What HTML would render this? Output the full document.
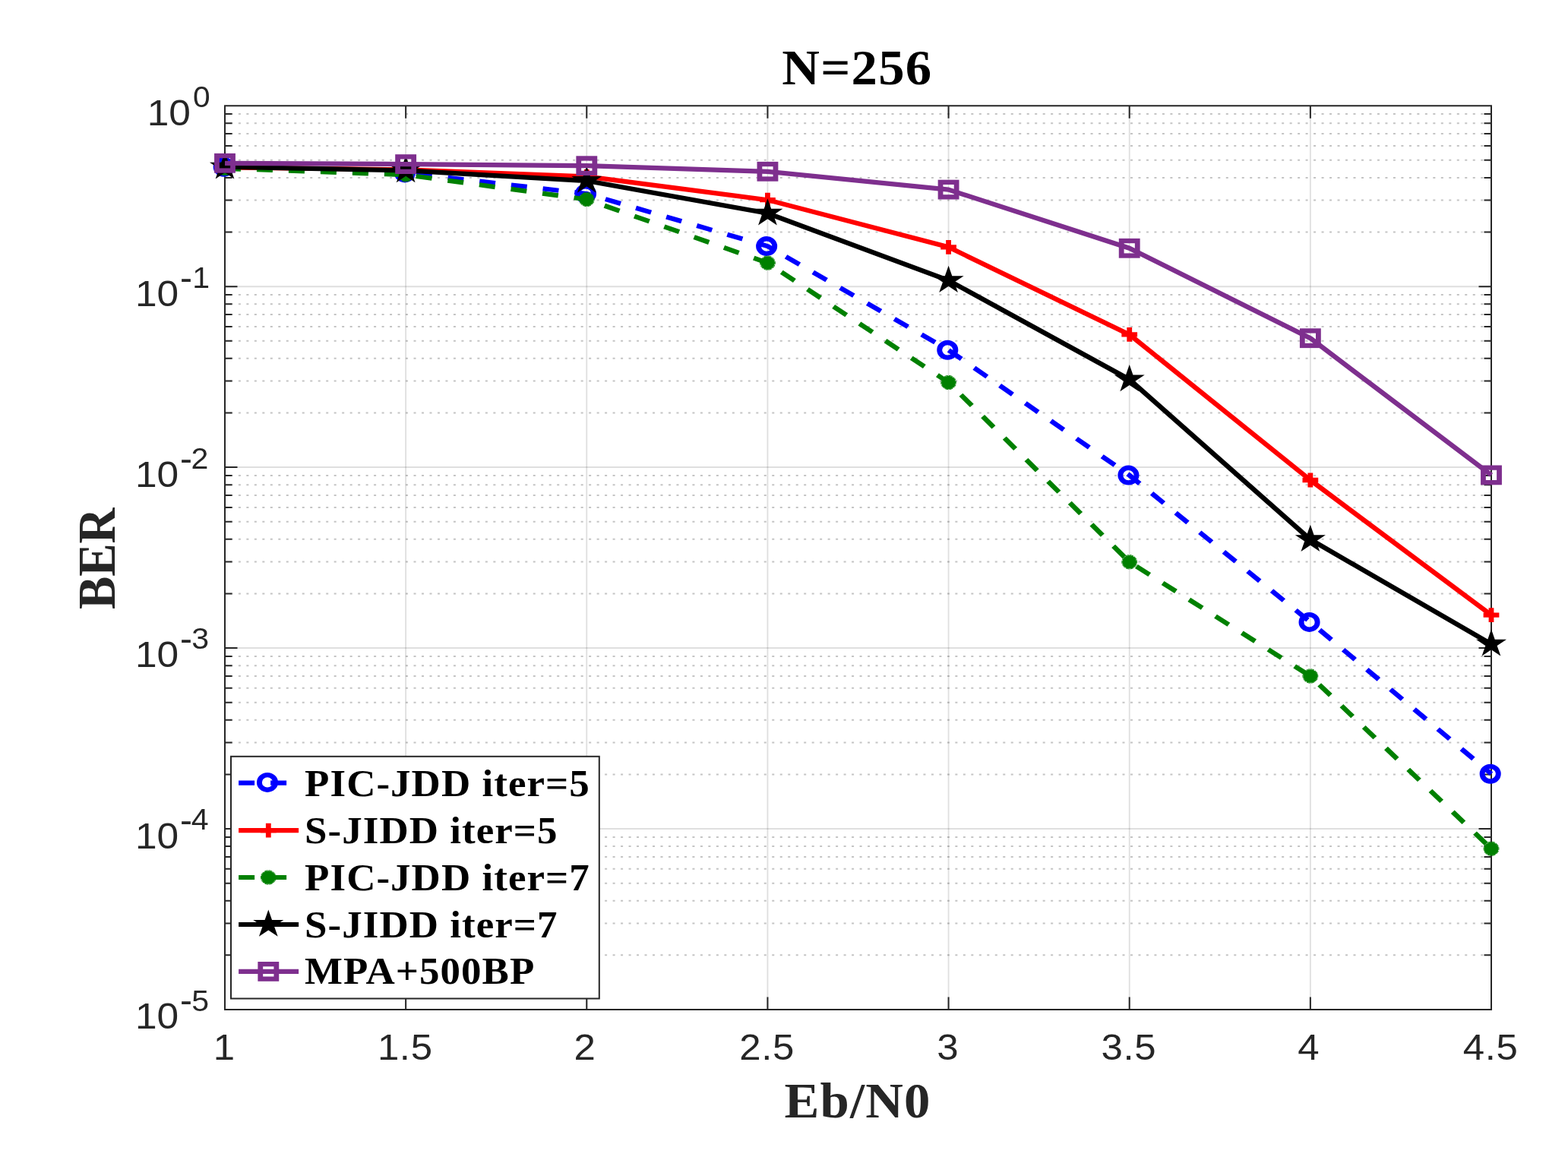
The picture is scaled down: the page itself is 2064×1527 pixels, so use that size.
<!DOCTYPE html><html><head><meta charset="utf-8"><title>N=256 BER vs Eb/N0</title><style>html,body{margin:0;padding:0;background:#fff;overflow:hidden}svg{display:block}</style></head><body>
<svg width="2064" height="1527" viewBox="0 0 2064 1527">
<rect x="0" y="0" width="2064" height="1527" fill="#fff"/>
<path d="M303.4 305.53H1963M303.4 263.62H1963M303.4 233.89H1963M303.4 210.83H1963M303.4 191.99H1963M303.4 176.06H1963M303.4 162.26H1963M303.4 150.09H1963M303.4 543.49H1963M303.4 501.58H1963M303.4 471.85H1963M303.4 448.79H1963M303.4 429.95H1963M303.4 414.02H1963M303.4 400.22H1963M303.4 388.05H1963M303.4 781.45H1963M303.4 739.54H1963M303.4 709.81H1963M303.4 686.75H1963M303.4 667.91H1963M303.4 651.98H1963M303.4 638.18H1963M303.4 626.01H1963M303.4 1019.41H1963M303.4 977.5H1963M303.4 947.77H1963M303.4 924.71H1963M303.4 905.87H1963M303.4 889.94H1963M303.4 876.14H1963M303.4 863.97H1963M303.4 1257.37H1963M303.4 1215.46H1963M303.4 1185.73H1963M303.4 1162.67H1963M303.4 1143.83H1963M303.4 1127.9H1963M303.4 1114.1H1963M303.4 1101.93H1963" stroke="#c4c4c4" stroke-width="2" stroke-dasharray="3 7.483" fill="none"/>
<path d="M296 377.16H1963M296 615.12H1963M296 853.08H1963M296 1091.04H1963" stroke="#262626" stroke-opacity="0.15" stroke-width="2" fill="none"/>
<path d="M534.14 139.2V1329M772.29 139.2V1329M1010.43 139.2V1329M1248.57 139.2V1329M1486.71 139.2V1329M1724.86 139.2V1329" stroke="#262626" stroke-opacity="0.15" stroke-width="1.8" fill="none"/>
<path d="M296 139.2H1963V1329H296ZM534.14 1329v-16.5M534.14 139.2v16.5M772.29 1329v-16.5M772.29 139.2v16.5M1010.43 1329v-16.5M1010.43 139.2v16.5M1248.57 1329v-16.5M1248.57 139.2v16.5M1486.71 1329v-16.5M1486.71 139.2v16.5M1724.86 1329v-16.5M1724.86 139.2v16.5M296 377.16h16.5M1963 377.16h-16.5M296 615.12h16.5M1963 615.12h-16.5M296 853.08h16.5M1963 853.08h-16.5M296 1091.04h16.5M1963 1091.04h-16.5M296 305.53h9.5M1963 305.53h-9.5M296 263.62h9.5M1963 263.62h-9.5M296 233.89h9.5M1963 233.89h-9.5M296 210.83h9.5M1963 210.83h-9.5M296 191.99h9.5M1963 191.99h-9.5M296 176.06h9.5M1963 176.06h-9.5M296 162.26h9.5M1963 162.26h-9.5M296 150.09h9.5M1963 150.09h-9.5M296 543.49h9.5M1963 543.49h-9.5M296 501.58h9.5M1963 501.58h-9.5M296 471.85h9.5M1963 471.85h-9.5M296 448.79h9.5M1963 448.79h-9.5M296 429.95h9.5M1963 429.95h-9.5M296 414.02h9.5M1963 414.02h-9.5M296 400.22h9.5M1963 400.22h-9.5M296 388.05h9.5M1963 388.05h-9.5M296 781.45h9.5M1963 781.45h-9.5M296 739.54h9.5M1963 739.54h-9.5M296 709.81h9.5M1963 709.81h-9.5M296 686.75h9.5M1963 686.75h-9.5M296 667.91h9.5M1963 667.91h-9.5M296 651.98h9.5M1963 651.98h-9.5M296 638.18h9.5M1963 638.18h-9.5M296 626.01h9.5M1963 626.01h-9.5M296 1019.41h9.5M1963 1019.41h-9.5M296 977.5h9.5M1963 977.5h-9.5M296 947.77h9.5M1963 947.77h-9.5M296 924.71h9.5M1963 924.71h-9.5M296 905.87h9.5M1963 905.87h-9.5M296 889.94h9.5M1963 889.94h-9.5M296 876.14h9.5M1963 876.14h-9.5M296 863.97h9.5M1963 863.97h-9.5M296 1257.37h9.5M1963 1257.37h-9.5M296 1215.46h9.5M1963 1215.46h-9.5M296 1185.73h9.5M1963 1185.73h-9.5M296 1162.67h9.5M1963 1162.67h-9.5M296 1143.83h9.5M1963 1143.83h-9.5M296 1127.9h9.5M1963 1127.9h-9.5M296 1114.1h9.5M1963 1114.1h-9.5M296 1101.93h9.5M1963 1101.93h-9.5" stroke="#262626" stroke-width="2" fill="none" stroke-linecap="butt"/>
<g transform="translate(296 0) scale(1.08 1) translate(-296 0)">
<path d="M296 219.8 L516.5 227.4 L737.01 255 L957.51 324.1 L1178.01 460.8 L1398.51 625.6 L1619.02 818.9 L1839.52 1018.7" stroke="#0000ff" stroke-width="6.2" fill="none" stroke-linejoin="round" stroke-dasharray="19.45 19.45"/>
<circle cx="294.8" cy="219.8" r="9.8" fill="none" stroke="#0000ff" stroke-width="6.4"/>
<circle cx="515.3" cy="227.4" r="9.8" fill="none" stroke="#0000ff" stroke-width="6.4"/>
<circle cx="735.8" cy="255" r="9.8" fill="none" stroke="#0000ff" stroke-width="6.4"/>
<circle cx="956.3" cy="324.1" r="9.8" fill="none" stroke="#0000ff" stroke-width="6.4"/>
<circle cx="1176.81" cy="460.8" r="9.8" fill="none" stroke="#0000ff" stroke-width="6.4"/>
<circle cx="1397.31" cy="625.6" r="9.8" fill="none" stroke="#0000ff" stroke-width="6.4"/>
<circle cx="1617.81" cy="818.9" r="9.8" fill="none" stroke="#0000ff" stroke-width="6.4"/>
<circle cx="1838.31" cy="1018.7" r="9.8" fill="none" stroke="#0000ff" stroke-width="6.4"/>
<path d="M296 220.4 L516.5 223.3 L737.01 232.4 L957.51 263.2 L1178.01 325.3 L1398.51 440.4 L1619.02 632 L1839.52 809.7" stroke="#ff0000" stroke-width="6.2" fill="none" stroke-linejoin="round"/>
<path d="M286.4 220.4h19.2M296 211v18.8" stroke="#ff0000" stroke-width="6.3" fill="none"/>
<path d="M506.9 223.3h19.2M516.5 213.9v18.8" stroke="#ff0000" stroke-width="6.3" fill="none"/>
<path d="M727.41 232.4h19.2M737.01 223v18.8" stroke="#ff0000" stroke-width="6.3" fill="none"/>
<path d="M947.91 263.2h19.2M957.51 253.8v18.8" stroke="#ff0000" stroke-width="6.3" fill="none"/>
<path d="M1168.41 325.3h19.2M1178.01 315.9v18.8" stroke="#ff0000" stroke-width="6.3" fill="none"/>
<path d="M1388.91 440.4h19.2M1398.51 431v18.8" stroke="#ff0000" stroke-width="6.3" fill="none"/>
<path d="M1609.42 632h19.2M1619.02 622.6v18.8" stroke="#ff0000" stroke-width="6.3" fill="none"/>
<path d="M1829.92 809.7h19.2M1839.52 800.3v18.8" stroke="#ff0000" stroke-width="6.3" fill="none"/>
<path d="M296 221.8 L516.5 230.1 L737.01 262.5 L957.51 346.1 L1178.01 503.5 L1398.51 739.8 L1619.02 890 L1839.52 1117.2" stroke="#008000" stroke-width="6.2" fill="none" stroke-linejoin="round" stroke-dasharray="19.45 19.45"/>
<circle cx="296" cy="221.8" r="8.8" fill="#008000"/><circle cx="296" cy="221.8" r="9.2" fill="none" stroke="#008000" stroke-width="0.9" stroke-dasharray="4.78 1.0" stroke-dashoffset="2.89"/>
<circle cx="516.5" cy="230.1" r="8.8" fill="#008000"/><circle cx="516.5" cy="230.1" r="9.2" fill="none" stroke="#008000" stroke-width="0.9" stroke-dasharray="4.78 1.0" stroke-dashoffset="2.89"/>
<circle cx="737.01" cy="262.5" r="8.8" fill="#008000"/><circle cx="737.01" cy="262.5" r="9.2" fill="none" stroke="#008000" stroke-width="0.9" stroke-dasharray="4.78 1.0" stroke-dashoffset="2.89"/>
<circle cx="957.51" cy="346.1" r="8.8" fill="#008000"/><circle cx="957.51" cy="346.1" r="9.2" fill="none" stroke="#008000" stroke-width="0.9" stroke-dasharray="4.78 1.0" stroke-dashoffset="2.89"/>
<circle cx="1178.01" cy="503.5" r="8.8" fill="#008000"/><circle cx="1178.01" cy="503.5" r="9.2" fill="none" stroke="#008000" stroke-width="0.9" stroke-dasharray="4.78 1.0" stroke-dashoffset="2.89"/>
<circle cx="1398.51" cy="739.8" r="8.8" fill="#008000"/><circle cx="1398.51" cy="739.8" r="9.2" fill="none" stroke="#008000" stroke-width="0.9" stroke-dasharray="4.78 1.0" stroke-dashoffset="2.89"/>
<circle cx="1619.02" cy="890" r="8.8" fill="#008000"/><circle cx="1619.02" cy="890" r="9.2" fill="none" stroke="#008000" stroke-width="0.9" stroke-dasharray="4.78 1.0" stroke-dashoffset="2.89"/>
<circle cx="1839.52" cy="1117.2" r="8.8" fill="#008000"/><circle cx="1839.52" cy="1117.2" r="9.2" fill="none" stroke="#008000" stroke-width="0.9" stroke-dasharray="4.78 1.0" stroke-dashoffset="2.89"/>
<path d="M296 219.7 L516.5 224.4 L737.01 238 L957.51 280.8 L1178.01 369.2 L1398.51 499.5 L1619.02 710.2 L1839.52 847.8" stroke="#000000" stroke-width="6.2" fill="none" stroke-linejoin="round"/>
<polygon points="296,200.2 300.38,213.67 314.55,213.67 303.08,222 307.46,235.48 296,227.15 284.54,235.48 288.92,222 277.45,213.67 291.62,213.67" fill="#000000"/>
<polygon points="516.5,204.9 520.88,218.37 535.05,218.37 523.59,226.7 527.96,240.18 516.5,231.85 505.04,240.18 509.42,226.7 497.96,218.37 512.12,218.37" fill="#000000"/>
<polygon points="737.01,218.5 741.38,231.97 755.55,231.97 744.09,240.3 748.47,253.78 737.01,245.45 725.54,253.78 729.92,240.3 718.46,231.97 732.63,231.97" fill="#000000"/>
<polygon points="957.51,261.3 961.89,274.77 976.05,274.77 964.59,283.1 968.97,296.58 957.51,288.25 946.05,296.58 950.42,283.1 938.96,274.77 953.13,274.77" fill="#000000"/>
<polygon points="1178.01,349.7 1182.39,363.17 1196.56,363.17 1185.1,371.5 1189.47,384.98 1178.01,376.65 1166.55,384.98 1170.93,371.5 1159.46,363.17 1173.63,363.17" fill="#000000"/>
<polygon points="1398.51,480 1402.89,493.47 1417.06,493.47 1405.6,501.8 1409.98,515.28 1398.51,506.95 1387.05,515.28 1391.43,501.8 1379.97,493.47 1394.13,493.47" fill="#000000"/>
<polygon points="1619.02,690.7 1623.39,704.17 1637.56,704.17 1626.1,712.5 1630.48,725.98 1619.02,717.65 1607.55,725.98 1611.93,712.5 1600.47,704.17 1614.64,704.17" fill="#000000"/>
<polygon points="1839.52,828.3 1843.9,841.77 1858.06,841.77 1846.6,850.1 1850.98,863.58 1839.52,855.25 1828.06,863.58 1832.43,850.1 1820.97,841.77 1835.14,841.77" fill="#000000"/>
<path d="M296 214.8 L516.5 216.1 L737.01 218.2 L957.51 225.8 L1178.01 249.6 L1398.51 326.8 L1619.02 445.2 L1839.52 625.4" stroke="#7e2f8e" stroke-width="6.2" fill="none" stroke-linejoin="round"/>
<rect x="286.25" y="205.05" width="19.5" height="19.5" fill="none" stroke="#7e2f8e" stroke-width="6.3"/>
<rect x="506.75" y="206.35" width="19.5" height="19.5" fill="none" stroke="#7e2f8e" stroke-width="6.3"/>
<rect x="727.26" y="208.45" width="19.5" height="19.5" fill="none" stroke="#7e2f8e" stroke-width="6.3"/>
<rect x="947.76" y="216.05" width="19.5" height="19.5" fill="none" stroke="#7e2f8e" stroke-width="6.3"/>
<rect x="1168.26" y="239.85" width="19.5" height="19.5" fill="none" stroke="#7e2f8e" stroke-width="6.3"/>
<rect x="1388.76" y="317.05" width="19.5" height="19.5" fill="none" stroke="#7e2f8e" stroke-width="6.3"/>
<rect x="1609.27" y="435.45" width="19.5" height="19.5" fill="none" stroke="#7e2f8e" stroke-width="6.3"/>
<rect x="1829.77" y="615.65" width="19.5" height="19.5" fill="none" stroke="#7e2f8e" stroke-width="6.3"/>
</g>
<rect x="304" y="995.8" width="484.8" height="318.7" fill="#fff" stroke="#262626" stroke-width="2"/>
<g transform="translate(296 0) scale(1.08 1) translate(-296 0)"><path d="M312.76 1030.6H385.91" stroke="#0000ff" stroke-width="6.2" fill="none" stroke-dasharray="19.45 19.45"/><circle cx="347.85" cy="1029.9" r="9.8" fill="none" stroke="#0000ff" stroke-width="6.4"/></g>
<text transform="translate(401.1 1047.9) scale(1.05 1)" font-family="'Liberation Serif', 'Times New Roman', Times, serif" font-weight="bold" font-size="50.4" fill="#000" letter-spacing="1.02">PIC-JDD iter=5</text>
<g transform="translate(296 0) scale(1.08 1) translate(-296 0)"><path d="M312.76 1093.1H385.91" stroke="#ff0000" stroke-width="6.2" fill="none"/><path d="M339.46 1093.1h19.2M349.06 1083.7v18.8" stroke="#ff0000" stroke-width="6.3" fill="none"/></g>
<text transform="translate(401.1 1110.1) scale(1.05 1)" font-family="'Liberation Serif', 'Times New Roman', Times, serif" font-weight="bold" font-size="50.4" fill="#000" letter-spacing="1.02">S-JIDD iter=5</text>
<g transform="translate(296 0) scale(1.08 1) translate(-296 0)"><path d="M312.76 1155H385.91" stroke="#008000" stroke-width="6.2" fill="none" stroke-dasharray="19.45 19.45"/><circle cx="349.06" cy="1155" r="8.8" fill="#008000"/><circle cx="349.06" cy="1155" r="9.2" fill="none" stroke="#008000" stroke-width="0.9" stroke-dasharray="4.78 1.0" stroke-dashoffset="2.89"/></g>
<text transform="translate(401.1 1171.9) scale(1.05 1)" font-family="'Liberation Serif', 'Times New Roman', Times, serif" font-weight="bold" font-size="50.4" fill="#000" letter-spacing="1.02">PIC-JDD iter=7</text>
<g transform="translate(296 0) scale(1.08 1) translate(-296 0)"><path d="M312.76 1217H385.91" stroke="#000000" stroke-width="6.2" fill="none"/><polygon points="349.06,1197.5 353.43,1210.97 367.6,1210.97 356.14,1219.3 360.52,1232.78 349.06,1224.45 337.59,1232.78 341.97,1219.3 330.51,1210.97 344.68,1210.97" fill="#000000"/></g>
<text transform="translate(401.1 1233.8) scale(1.05 1)" font-family="'Liberation Serif', 'Times New Roman', Times, serif" font-weight="bold" font-size="50.4" fill="#000" letter-spacing="1.02">S-JIDD iter=7</text>
<g transform="translate(296 0) scale(1.08 1) translate(-296 0)"><path d="M312.76 1278.9H385.91" stroke="#7e2f8e" stroke-width="6.2" fill="none"/><rect x="339.31" y="1269.15" width="19.5" height="19.5" fill="none" stroke="#7e2f8e" stroke-width="6.3"/></g>
<text transform="translate(401.1 1295.3) scale(1.05 1)" font-family="'Liberation Serif', 'Times New Roman', Times, serif" font-weight="bold" font-size="50.4" fill="#000" letter-spacing="1.02">MPA+500BP</text>
<text transform="translate(280.63 1395.1) scale(1.04 1)" font-family="'Liberation Sans', Arial, Helvetica, sans-serif" font-size="49" fill="#262626" letter-spacing="0.6">1</text>
<text transform="translate(496.9 1395.1) scale(1.04 1)" font-family="'Liberation Sans', Arial, Helvetica, sans-serif" font-size="49" fill="#262626" letter-spacing="0.6">1.5</text>
<text transform="translate(755.61 1395.1) scale(1.04 1)" font-family="'Liberation Sans', Arial, Helvetica, sans-serif" font-size="49" fill="#262626" letter-spacing="0.6">2</text>
<text transform="translate(973.18 1395.1) scale(1.04 1)" font-family="'Liberation Sans', Arial, Helvetica, sans-serif" font-size="49" fill="#262626" letter-spacing="0.6">2.5</text>
<text transform="translate(1233.2 1395.1) scale(1.04 1)" font-family="'Liberation Sans', Arial, Helvetica, sans-serif" font-size="49" fill="#262626" letter-spacing="0.6">3</text>
<text transform="translate(1449.47 1395.1) scale(1.04 1)" font-family="'Liberation Sans', Arial, Helvetica, sans-serif" font-size="49" fill="#262626" letter-spacing="0.6">3.5</text>
<text transform="translate(1708.19 1395.1) scale(1.04 1)" font-family="'Liberation Sans', Arial, Helvetica, sans-serif" font-size="49" fill="#262626" letter-spacing="0.6">4</text>
<text transform="translate(1925.76 1395.1) scale(1.04 1)" font-family="'Liberation Sans', Arial, Helvetica, sans-serif" font-size="49" fill="#262626" letter-spacing="0.6">4.5</text>
<text transform="translate(193.63 164.8) scale(1.05 1)" font-family="'Liberation Sans', Arial, Helvetica, sans-serif" font-size="49" fill="#262626">10</text>
<text transform="translate(254.01 140.7) scale(1.03 1)" font-family="'Liberation Sans', Arial, Helvetica, sans-serif" font-size="39.5" fill="#262626">0</text>
<text transform="translate(177.88 402.96) scale(1.05 1)" font-family="'Liberation Sans', Arial, Helvetica, sans-serif" font-size="49" fill="#262626">10</text>
<text transform="translate(237.07 382.11) scale(1 1)" font-family="'Liberation Sans', Arial, Helvetica, sans-serif" font-size="48" fill="#262626">-</text>
<text transform="translate(253.17 378.96) scale(1.04 1)" font-family="'Liberation Sans', Arial, Helvetica, sans-serif" font-size="39.5" fill="#262626">1</text>
<text transform="translate(177.88 641.12) scale(1.05 1)" font-family="'Liberation Sans', Arial, Helvetica, sans-serif" font-size="49" fill="#262626">10</text>
<text transform="translate(237.07 620.07) scale(1 1)" font-family="'Liberation Sans', Arial, Helvetica, sans-serif" font-size="48" fill="#262626">-</text>
<text transform="translate(251.43 617.42) scale(1.04 1)" font-family="'Liberation Sans', Arial, Helvetica, sans-serif" font-size="39.5" fill="#262626">2</text>
<text transform="translate(177.88 877.68) scale(1.05 1)" font-family="'Liberation Sans', Arial, Helvetica, sans-serif" font-size="49" fill="#262626">10</text>
<text transform="translate(237.07 857.38) scale(1 1)" font-family="'Liberation Sans', Arial, Helvetica, sans-serif" font-size="48" fill="#262626">-</text>
<text transform="translate(252.14 853.68) scale(1.04 1)" font-family="'Liberation Sans', Arial, Helvetica, sans-serif" font-size="39.5" fill="#262626">3</text>
<text transform="translate(177.88 1116.64) scale(1.05 1)" font-family="'Liberation Sans', Arial, Helvetica, sans-serif" font-size="49" fill="#262626">10</text>
<text transform="translate(237.07 1096.14) scale(1 1)" font-family="'Liberation Sans', Arial, Helvetica, sans-serif" font-size="48" fill="#262626">-</text>
<text transform="translate(251.66 1091.94) scale(1.04 1)" font-family="'Liberation Sans', Arial, Helvetica, sans-serif" font-size="39.5" fill="#262626">4</text>
<text transform="translate(177.88 1354.3) scale(1.05 1)" font-family="'Liberation Sans', Arial, Helvetica, sans-serif" font-size="49" fill="#262626">10</text>
<text transform="translate(237.07 1333.4) scale(1 1)" font-family="'Liberation Sans', Arial, Helvetica, sans-serif" font-size="48" fill="#262626">-</text>
<text transform="translate(252.36 1330.6) scale(1.04 1)" font-family="'Liberation Sans', Arial, Helvetica, sans-serif" font-size="39.5" fill="#262626">5</text>
<text transform="translate(1029.29 111.1) scale(1.05 1)" font-family="'Liberation Serif', 'Times New Roman', Times, serif" font-weight="bold" font-size="65.4" fill="#000" letter-spacing="1.24">N=256</text>
<text transform="translate(1032.53 1470.7) scale(1.06 1)" font-family="'Liberation Serif', 'Times New Roman', Times, serif" font-weight="bold" font-size="64.9" fill="#262626" letter-spacing="1.06">Eb/N0</text>
<text transform="translate(150.8 802.08) rotate(-90) scale(1 1.071)" font-family="'Liberation Serif', 'Times New Roman', Times, serif" font-weight="bold" font-size="65.0" fill="#262626">BER</text>
</svg></body></html>
